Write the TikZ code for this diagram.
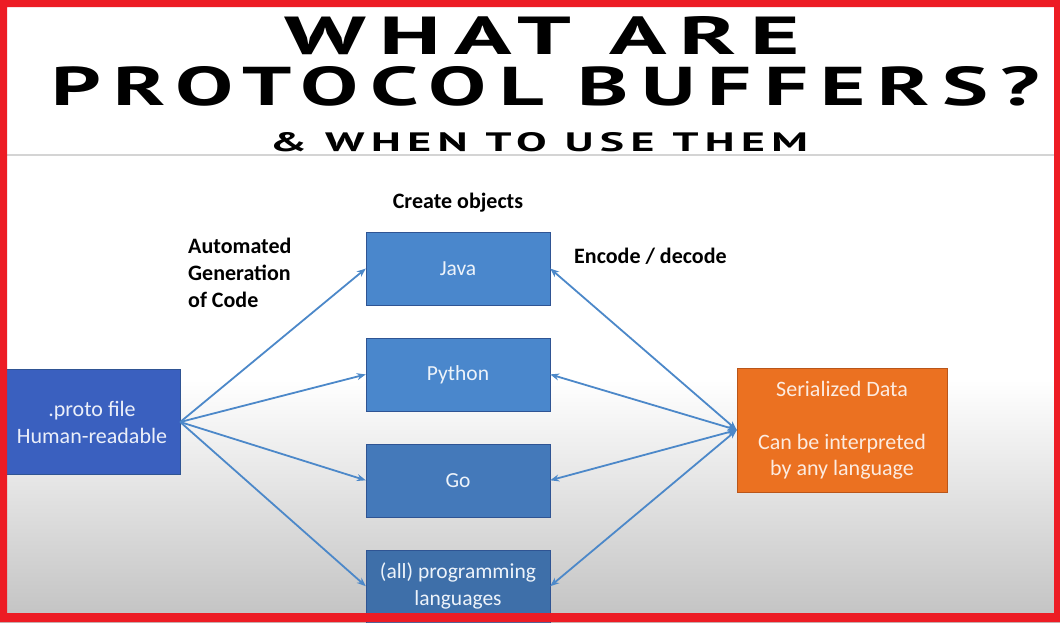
\documentclass[tikz,border=0pt]{standalone}
\usepackage{fontspec}
\usepackage{graphicx}
\setmainfont{Carlito}
\newfontfamily\titlefont[LetterSpace=14]{PT Sans}
\usetikzlibrary{arrows.meta, positioning}
\definecolor{frameRed}{HTML}{ED1C24}
\definecolor{sepGray}{HTML}{D4D4D4}
\definecolor{slideGray}{HTML}{C2C2C2}
\definecolor{protoBlue}{HTML}{3A60BF}
\definecolor{langBlue}{HTML}{4A87CC}
\definecolor{langMid}{HTML}{4479BA}
\definecolor{langDark}{HTML}{3E6FA9}
\definecolor{edgeBlue}{HTML}{2F5493}
\definecolor{arrowBlue}{HTML}{4C88C9}
\definecolor{dataOrange}{HTML}{EB7121}
\definecolor{dataEdge}{HTML}{B9561A}
\tikzset{
  arrowB/.style={-{Stealth[length=9pt, width=7pt]}, arrowBlue, line width=1.8pt},
  arrowBoth/.style={{Stealth[length=9pt, width=7pt]}-{Stealth[length=9pt, width=7pt]}, arrowBlue, line width=1.8pt},
  boxLang/.style={rectangle, draw=edgeBlue, fill=langBlue, text=white!90!langBlue,
                  align=center, font=\fontsize{21.5}{27}\selectfont,
                  minimum width=184pt, minimum height=73pt, inner sep=2pt},
  boxProto/.style={rectangle, draw=edgeBlue, fill=protoBlue, text=white!90!protoBlue,
                   align=center, font=\fontsize{22}{27}\selectfont,
                   minimum width=176pt, minimum height=105pt, inner sep=2pt},
  boxData/.style={rectangle, draw=dataEdge, fill=dataOrange, text=white!86!dataOrange,
                  align=center, font=\fontsize{22}{26.5}\selectfont,
                  minimum width=210pt, minimum height=124pt, inner sep=2pt},
  labelB/.style={font=\bfseries\fontsize{22}{27}\selectfont, text=black, inner sep=0pt},
}

\begin{document}
\begin{tikzpicture}[x=1pt, y=-1pt]
    \useasboundingbox (0,0) rectangle (1060,622);
    % slide background
    \fill[white] (0,0) rectangle (1060,380);
    \fill[top color=white, bottom color=slideGray] (0,380) rectangle (1060,622);
    \draw[sepGray, line width=1.2pt] (7,155) -- (1054,155);

    % title
    \node[inner sep=0pt] (titleA) at (542,36) {\resizebox{515pt}{38pt}{\titlefont\bfseries WHAT ARE}};
    \node[inner sep=0pt] (titleB) at (546,86.5) {\resizebox{988pt}{39pt}{\titlefont\bfseries PROTOCOL BUFFERS?}};
    \node[inner sep=0pt] (titleC) at (539,142) {\resizebox{538pt}{19pt}{\titlefont\bfseries \&~WHEN TO USE THEM}};

    % boxes
    \node[boxProto] (proto) at (92,422) {.proto file\\Human-readable};
    \node[boxLang] (java) at (458,268.5) {Java};
    \node[boxLang, below=32.5pt of java] (python) {Python};
    \node[boxLang, fill=langMid, below=32.5pt of python] (go) {Go};
    \node[boxLang, fill=langDark, below=32.5pt of go] (alllang) {(all) programming\\languages};
    \node[boxData] (serial) at (842,430) {Serialized Data\\[26.5pt]Can be interpreted\\by any language};

    % labels
    \node[labelB, above=19pt of java] (create) {Create objects};
    \node[labelB, align=left, anchor=west] (autogen) at (188,273) {Automated\\Generation\\of Code};
    \node[labelB, anchor=west] (encode) at (574,256) {Encode / decode};

    % connectors
    \foreach \n in {java, python, go, alllang} {
      \draw[arrowB] (proto.east) -- (\n.west);
      \draw[arrowBoth] (serial.west) -- (\n.east);
    }

    % frame
    \fill[frameRed, even odd rule] (0,0) rectangle (1060,622) (7,7) rectangle (1054,613);
  \end{tikzpicture}
\end{document}
